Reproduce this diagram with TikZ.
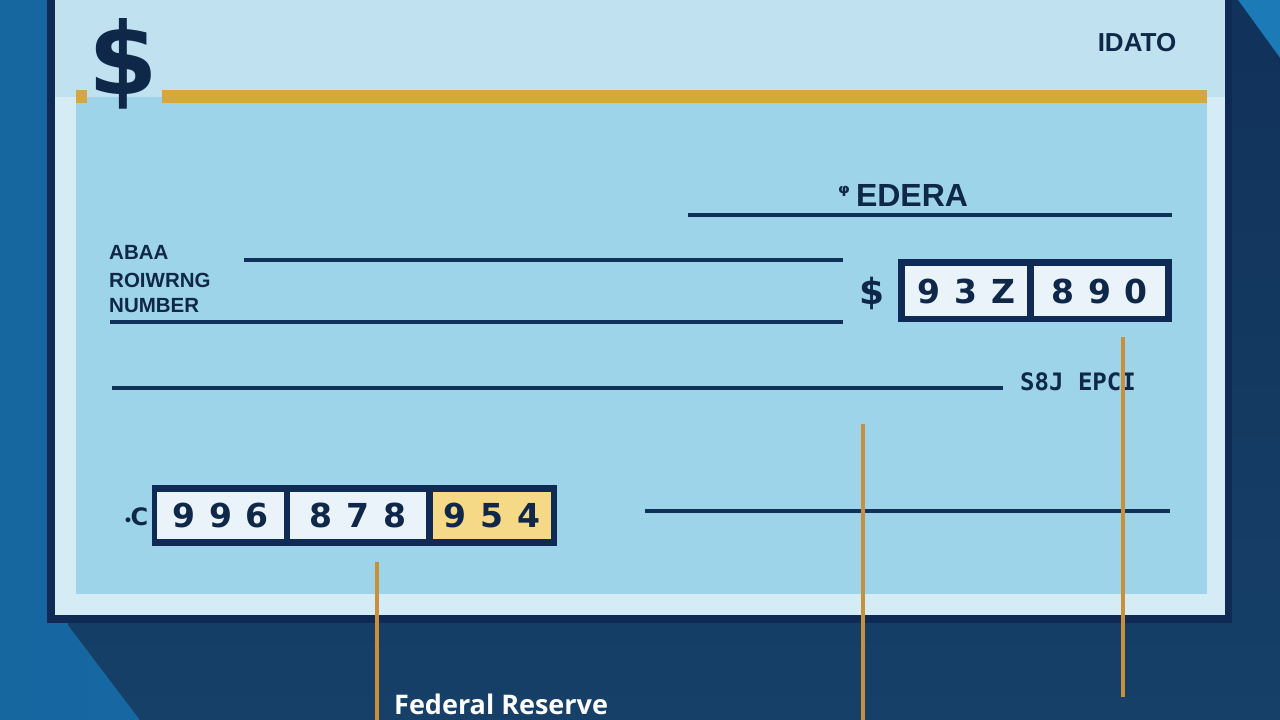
\documentclass[tikz,border=0pt]{standalone}
\usepackage{fontspec}
\setmainfont{Liberation Sans}
\newfontfamily\djfont{DejaVu Sans}
\newfontfamily\djmono{DejaVu Sans Mono}
\newfontfamily\osfont{Open Sans}
\definecolor{bgA}{HTML}{1666A0}
\definecolor{bgB}{HTML}{1C7BB6}
\definecolor{darkA}{HTML}{11325A}
\definecolor{darkB}{HTML}{164068}
\definecolor{cardborder}{HTML}{0E2A55}
\definecolor{pale}{HTML}{D5EBF6}
\definecolor{header}{HTML}{C0E2F0}
\definecolor{inner}{HTML}{9ED4EA}
\definecolor{gold}{HTML}{D4A83C}
\definecolor{leadc}{HTML}{C8903A}
\definecolor{navytext}{HTML}{0F2748}
\definecolor{navyline}{HTML}{10325A}
\definecolor{cellwhite}{HTML}{E9F3F9}
\definecolor{cellyellow}{HTML}{F6D987}
\tikzset{
  formline/.style={draw=navyline, line width=3.8pt},
  leader/.style={draw=leadc, line width=3.2pt},
  lbl/.style={text=navytext, inner sep=0pt, font=\bfseries\fontsize{20.5}{20.5}\selectfont},
  wcell/.style={fill=cellwhite, inner sep=0pt, text=navytext, font=\djfont\bfseries\fontsize{33}{33}\selectfont},
  ycell/.style={wcell, fill=cellyellow},
}
\begin{document}
\begin{tikzpicture}[x=1pt,y=-1pt]
\useasboundingbox (0,0) rectangle (1280,720);
% background
\shade[left color=bgA, right color=bgB] (0,0) rectangle (1280,720);
\shade[top color=darkA, bottom color=darkB] (1228,0) -- (1238,0) -- (1280,58) -- (1280,720) -- (140,720) -- (68,625) -- (68,600) -- (1228,600) -- cycle;
% card
\fill[cardborder] (47,-5) rectangle (1232,623);
\fill[pale] (55,-5) rectangle (1225,615);
\fill[header] (55,-5) rectangle (1225,97);
\fill[inner] (76,97) rectangle (1207,594);
\fill[gold] (162,90) rectangle (1207,103);
\fill[gold] (76,90) rectangle (87,103);
% header texts
\node[text=navytext, inner sep=0pt, font=\djfont\bfseries\fontsize{100}{100}\selectfont] (dollar) at (123,64) {\$};
\node[text=navytext, inner sep=0pt, font=\bfseries\fontsize{26}{26}\selectfont] (idato) at (1137,43) {IDATO};
% payee area
\node[text=navytext, inner sep=0pt, font=\bfseries\fontsize{32}{32}\selectfont] (edera) at (912,195) {EDERA};
\node[text=navytext, inner sep=0pt, font=\djfont\bfseries\fontsize{24}{24}\selectfont] (mark) at (844,194) {ᵠ};
\draw[formline] (688,215) -- (1172,215);
% routing label
\node[lbl, anchor=west] (abaa) at (109,252) {ABAA};
\node[lbl, anchor=west] (roi) at (109,280) {ROIWRNG};
\node[lbl, anchor=west] (num) at (109,306) {NUMBER};
\draw[formline] (244,260) -- (843,260);
\draw[formline] (110,322) -- (843,322);
\draw[formline] (112,388) -- (1003,388);
\draw[formline] (645,511) -- (1170,511);
% amount box
\node[text=navytext, inner sep=0pt, font=\djfont\bfseries\fontsize{36}{36}\selectfont] (sdollar) at (872,293) {\$};
\fill[cardborder] (898,259) rectangle (1172,322);
\node[wcell, minimum width=122pt, minimum height=50pt] (amt1) at (966,291) {9\hspace{14pt}3\hspace{14pt}Z};
\node[wcell, minimum width=131pt, minimum height=50pt] (amt2) at (1099.5,291) {8\hspace{14pt}9\hspace{14pt}0};
\node[text=navytext, inner sep=0pt, font=\djmono\bfseries\fontsize{24}{24}\selectfont] (sbj) at (1078,382) {S8J EPCI};
% MICR line
\node[text=navytext, inner sep=0pt] (micr) at (136,517) {{\djfont\bfseries\fontsize{14}{14}\selectfont •}\hspace{-2pt}{\djfont\bfseries\fontsize{24}{24}\selectfont C}};
\fill[cardborder] (152,485) rectangle (557,546);
\node[wcell, minimum width=127pt, minimum height=47pt] (m1) at (220.5,515.5) {9\hspace{14pt}9\hspace{14pt}6};
\node[wcell, minimum width=136pt, minimum height=47pt] (m2) at (358,515.5) {8\hspace{14pt}7\hspace{14pt}8};
\node[ycell, minimum width=118pt, minimum height=47pt] (m3) at (492,515.5) {9\hspace{14pt}5\hspace{14pt}4};
% leaders
\coordinate (l1a) at (377,562);
\coordinate (l1b) at (377,722);
\coordinate (l2a) at (863,424);
\coordinate (l2b) at (863,722);
\coordinate (l3a) at (1123,337);
\coordinate (l3b) at (1123,697);
\draw[leader] (l1a) -- (l1b);
\draw[leader] (l2a) -- (l2b);
\draw[leader] (l3a) -- (l3b);
% bottom label
\node[anchor=base west, inner sep=0pt, text=white, font=\osfont\bfseries\fontsize{27}{27}\selectfont] (fed) at (394,714) {Federal Reserve};
\end{tikzpicture}
\end{document}
